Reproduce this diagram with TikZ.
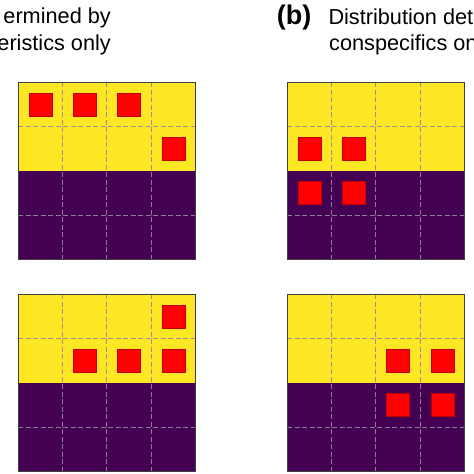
\documentclass[tikz,border=0pt]{standalone}
\usepackage{fontspec}
\setmainfont{Liberation Sans}
\usetikzlibrary{positioning}
\definecolor{habyellow}{HTML}{FDE725}
\definecolor{habpurple}{HTML}{440154}
\definecolor{occred}{HTML}{FF0000}
\definecolor{dashgray}{RGB}{150,135,160}

\begin{document}
\begin{tikzpicture}[x=1pt,y=-1pt,
  lbl/.style={font=\fontsize{21.7}{27}\selectfont,inner sep=0pt},
  panel/.style={font=\bfseries\fontsize{27}{30}\selectfont,inner sep=0pt},
  gridline/.style={draw=dashgray,opacity=.9,line width=1.1pt,dash pattern=on 5pt off 2.5pt},
  frame/.style={draw=black!75,line width=.7pt},
  occ/.style={draw=red!75!black,fill=occred,line width=.4pt,minimum size=23pt,inner sep=0pt}
]
\useasboundingbox (0,0) rectangle (474,474);
% titles
\node[lbl,anchor=base east] (ta1) at (111,23.5) {ermined by};
\node[lbl,anchor=base east] (ta2) at (111,50.5) {eristics only};
\node[panel,anchor=base west] (lb) at (276.7,24) {(b)};
\node[lbl,anchor=base west] (tb1) at (328.3,24) {Distribution det};
\node[lbl,anchor=base west] (tb2) at (329,50.5) {conspecifics on};
% habitat grids
\foreach \ox/\oy in {18/82,287/82,18/294,287/294}{
  \fill[habyellow] (\ox,\oy) rectangle ++(177.6,88.8);
  \fill[habpurple] (\ox,\oy+88.8) rectangle ++(177.6,88.8);
  \foreach \i in {1,2,3}
    \draw[gridline] (\ox+\i*44.4,\oy) -- ++(0,177.6);
  \foreach \j in {1,3}
    \draw[gridline] (\ox,\oy+\j*44.4) -- ++(177.6,0);
  \draw[frame] (\ox,\oy) rectangle ++(177.6,177.6);
}
% occupied cells (column/row)
\foreach \c/\r [count=\k] in {0/0,1/0,2/0,3/1}
  \node[occ] (a-\k) at (40.2+\c*44.4,104.2+\r*44.4) {};
\foreach \c/\r [count=\k] in {0/1,1/1,0/2,1/2}
  \node[occ] (b-\k) at (309.2+\c*44.4,104.2+\r*44.4) {};
\foreach \c/\r [count=\k] in {3/0,1/1,2/1,3/1}
  \node[occ] (c-\k) at (40.2+\c*44.4,316.2+\r*44.4) {};
\foreach \c/\r [count=\k] in {2/1,3/1,2/2,3/2}
  \node[occ] (d-\k) at (309.2+\c*44.4,316.2+\r*44.4) {};
\end{tikzpicture}
\end{document}
